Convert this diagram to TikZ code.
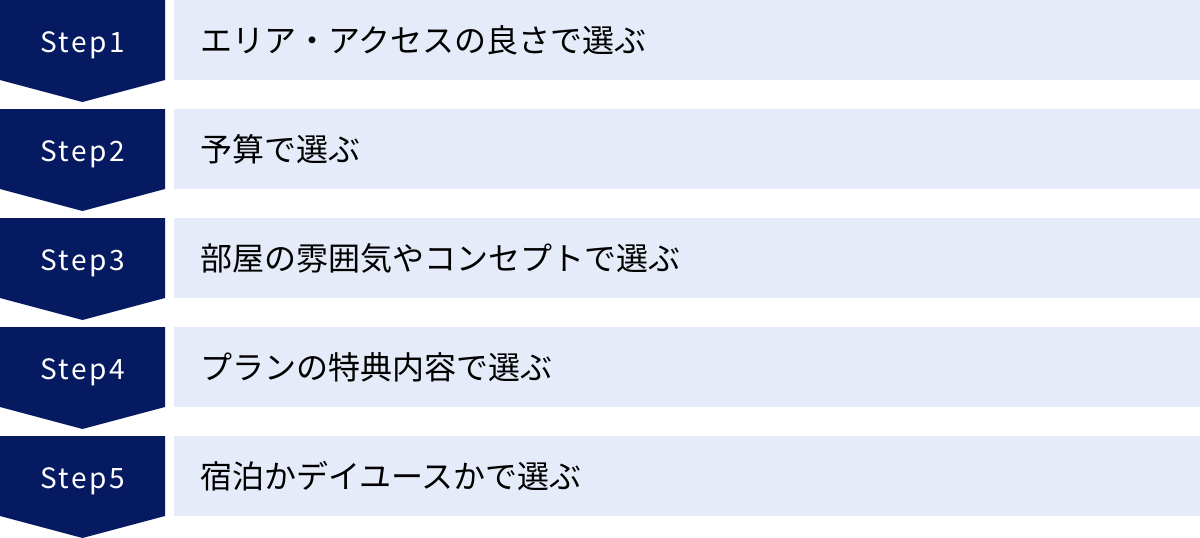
\documentclass[tikz,border=0pt]{standalone}
\usepackage{fontspec}
\setmainfont{Noto Sans CJK JP}
\newfontfamily\stepfont[LetterSpace=9]{Noto Sans CJK JP}
\definecolor{stepnavy}{HTML}{061A62}
\definecolor{rowblue}{HTML}{E5EBF8}
\tikzset{
  steplabel/.style={text=white, inner sep=0pt, anchor=base, font=\stepfont\fontsize{28}{32}\selectfont},
  itemlabel/.style={text=black, inner sep=0pt, anchor=base west, font=\fontsize{32}{36}\selectfont}
}
\begin{document}
\begin{tikzpicture}[x=1pt,y=-1pt, line join=round]
\def\w{165} \def\h{80} \def\tip{22} \def\gap{109} % Kích thước
\def\xa{174} \def\xb{1200}
\useasboundingbox (0,0) rectangle (1200,538);
\foreach \i/\txt in {1/エリア・アクセスの良さで選ぶ,
                     2/予算で選ぶ,
                     3/部屋の雰囲気やコンセプトで選ぶ,
                     4/プランの特典内容で選ぶ,
                     5/宿泊かデイユースかで選ぶ}{
  \pgfmathsetmacro\t{(\i-1)*\gap}
  \fill[stepnavy] (0,\t)--(\w,\t)--(\w,\t+\h)--(\w/2,\t+\h+\tip)--(0,\t+\h)--cycle;
  \fill[rowblue] (\xa,\t) rectangle (\xb,\t+\h);
  \node[steplabel] (step\i) at (\w/2,\t+52) {Step\i};
  \node[itemlabel] (item\i) at (200,\t+52) {\txt};
}
\end{tikzpicture}
\end{document}
